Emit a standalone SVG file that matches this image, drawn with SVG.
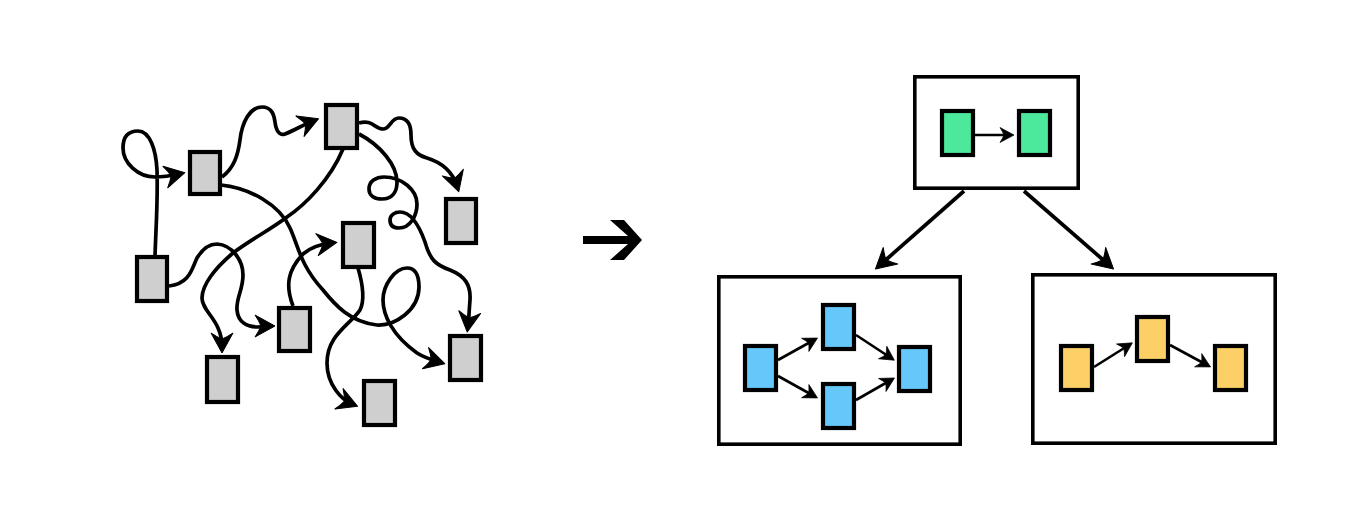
<svg xmlns="http://www.w3.org/2000/svg" width="1358" height="523" viewBox="0 0 1358 523">
<style>
.n{stroke:#000;stroke-width:4.2}
.g{fill:#cfcfcf}.b{fill:#66c8fa}.t{fill:#4ce89c}.o{fill:#fdd067}
.box{fill:#fff;stroke:#000;stroke-width:3.6}
.c{fill:none;stroke:#000;stroke-width:3.7}
.w{fill:none;stroke:#000;stroke-width:2.6}
</style>
<defs>
<marker id="h" markerUnits="userSpaceOnUse" viewBox="-20 -14 30 28" refX="0" refY="0" markerWidth="30" markerHeight="28" orient="auto" overflow="visible"><path d="M6 0L-14 -11Q-10 -5 -8 0Q-10 5 -14 11Z" fill="#000" stroke="#000" stroke-width="1" stroke-linejoin="round"/></marker>
<marker id="s" markerUnits="userSpaceOnUse" viewBox="-20 -14 30 28" refX="0" refY="0" markerWidth="30" markerHeight="28" orient="auto" overflow="visible"><path d="M4 0L-10 -7.500Q-7.500 -3.500 -6 0Q-7.500 3.500 -10 7.500Z" fill="#000" stroke="#000" stroke-width=".7" stroke-linejoin="round"/></marker>
</defs>
<rect width="1358" height="523" fill="#fff"/>
<g id="top-box"><rect class="box" x="914.800" y="76.800" width="163.400" height="111.400"/></g>
<g id="left-box"><rect class="box" x="718.800" y="276.800" width="241.400" height="167.400"/></g>
<g id="right-box"><rect class="box" x="1032.800" y="274.800" width="242.400" height="168.400"/></g>
<g id="connectors">
<path class="c" marker-end="url(#h)" d="M155 256C156 225 158 200 157 170C156 150 150 131 138 131C127 131 123 138 123 148C123 163 138 177 155 177C163 177 170 176 179 174"/>
<path class="c" marker-end="url(#h)" d="M222 177C234 168 238 155 240 140C242 122 250 107 262 107C272 107 274 115 275 122C276 130 279 136 285 134C295 130 303 125 313 121"/>
<path class="c" marker-end="url(#h)" d="M221 185C250 188 280 205 290 228C298 245 300 265 323 290C335 305 350 322 377 325C395 326 419 310 419 287C419 275 415 268 407 268C395 268 383 285 383 300C383 315 392 335 417 353C425 358 432 360 439 362"/>
<path class="c" marker-end="url(#h)" d="M169 286C190 284 192 268 197 258C203 248 210 244 217 244C232 245 243 260 243 275C243 290 236 298 237 310C238 322 247 327 258 327C262 327 266 326 269 326"/>
<path class="c" marker-end="url(#h)" d="M343 149C330 180 305 205 287 217C270 230 250 240 233 253C215 268 202 285 202 298C202 312 222 320 222 347"/>
<path class="c" marker-end="url(#h)" d="M359 123C372 119 375 129 383 129C390 129 391 118 399 118C407 118 411 124 411 135C411 150 417 155 427 158C440 162 452 170 457 186"/>
<path class="c" marker-end="url(#h)" d="M359 134C380 145 397 165 397 182C397 192 392 199 382 199C375 199 369 196 369 189C369 181 376 177 384 177C402 177 417 190 417 204C417 216 410 228 399 228C393 228 390 225 390 220C390 215 395 212 400 212C412 212 420 228 425 242C430 260 436 265 450 270C465 276 471 285 470 300C469 312 469 318 468 326"/>
<path class="c" marker-end="url(#h)" d="M293 306C285 285 288 270 303 254C312 246 322 244 331 243"/>
<path class="c" marker-end="url(#h)" d="M358 268C363 285 365 300 360 310C350 325 327 335 327 363C327 385 342 400 352 404"/>
<path class="w" marker-end="url(#s)" d="M975 135H1010"/>
<path class="c" marker-end="url(#h)" d="M964 191L880 265"/>
<path class="c" marker-end="url(#h)" d="M1024 191L1109 265"/>
<path class="w" marker-end="url(#s)" d="M778 360L814 340"/>
<path class="w" marker-end="url(#s)" d="M778 376L814 396"/>
<path class="w" marker-end="url(#s)" d="M856 335L891 358"/>
<path class="w" marker-end="url(#s)" d="M856 400L891 380"/>
<path class="w" marker-end="url(#s)" d="M1094 367L1129 345"/>
<path class="w" marker-end="url(#s)" d="M1170 345L1207 365"/>
</g>
<g id="a"><rect class="n g" x="190" y="152" width="30" height="42"/></g>
<g id="b"><rect class="n g" x="137" y="257" width="30" height="44"/></g>
<g id="c"><rect class="n g" x="326" y="105" width="31" height="43"/></g>
<g id="d"><rect class="n g" x="446" y="199" width="30" height="44"/></g>
<g id="e"><rect class="n g" x="343" y="223" width="31" height="44"/></g>
<g id="f"><rect class="n g" x="279" y="308" width="31" height="43"/></g>
<g id="g"><rect class="n g" x="207" y="357" width="31" height="45"/></g>
<g id="h1"><rect class="n g" x="364" y="381" width="31" height="44"/></g>
<g id="i"><rect class="n g" x="450" y="336" width="31" height="44"/></g>
<path id="big-arrow" d="M583 236H628L610 220H624L642 240L624 260H610L628 244H583Z" fill="#000"/>
<g id="top-1"><rect class="n t" x="942" y="111" width="31" height="44"/></g>
<g id="top-2"><rect class="n t" x="1019" y="111" width="31" height="44"/></g>
<g id="blue-1"><rect class="n b" x="745" y="346" width="31" height="44"/></g>
<g id="blue-2"><rect class="n b" x="823" y="305" width="31" height="44"/></g>
<g id="blue-3"><rect class="n b" x="823" y="384" width="31" height="44"/></g>
<g id="blue-4"><rect class="n b" x="899" y="347" width="31" height="44"/></g>
<g id="orange-1"><rect class="n o" x="1061" y="346" width="31" height="44"/></g>
<g id="orange-2"><rect class="n o" x="1137" y="317" width="31" height="44"/></g>
<g id="orange-3"><rect class="n o" x="1215" y="346" width="31" height="44"/></g>
</svg>
